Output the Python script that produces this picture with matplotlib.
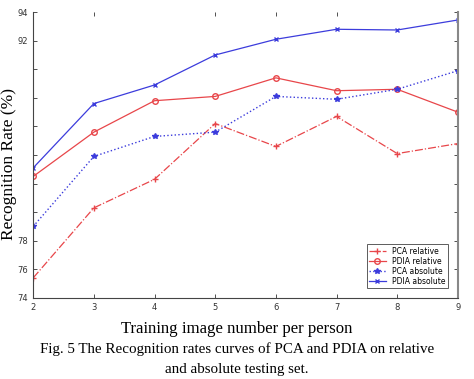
import matplotlib
matplotlib.use('Agg')
import matplotlib.pyplot as plt

# training images per person
n_train = [2, 3, 4, 5, 6, 7, 8, 9]

pca_relative = [75.4, 80.3, 82.3, 86.2, 84.6, 86.7, 84.1, 84.8]
pdia_relative = [82.5, 85.6, 87.8, 88.1, 89.4, 88.5, 88.6, 87.0]
pca_absolute = [79.0, 83.9, 85.3, 85.6, 88.1, 87.9, 88.6, 89.9]
pdia_absolute = [83.1, 87.6, 88.9, 91.0, 92.1, 92.8, 92.75, 93.45]

y_ticks = [74, 76, 78, 80, 82, 84, 86, 88, 90, 92, 94]
y_tick_labels = ["74", "76", "78", "", "", "", "", "", "", "92", "94"]
top_ticks = [3, 5, 6, 7]

red = '#e8464a'
blue = '#3c3cdc'

fig = plt.figure(figsize=(4.74, 3.79), dpi=100)
ax = fig.add_axes([0.070, 0.214, 0.896, 0.754])

ax.plot(n_train, pca_relative, color=red, linestyle='-.', marker='+', markersize=5, linewidth=0.9, label='PCA relative')
ax.plot(n_train, pdia_relative, color=red, linestyle='-', marker='o', markersize=4, markerfacecolor='none', linewidth=0.9, label='PDIA relative')
ax.plot(n_train, pca_absolute, color=blue, linestyle=':', marker='*', markersize=4, linewidth=1.0, label='PCA absolute')
ax.plot(n_train, pdia_absolute, color=blue, linestyle='-', marker='x', markersize=3, linewidth=0.9, label='PDIA absolute')

ax.set_xlim(2, 9)
ax.set_ylim(74, 94)
ax.set_xticks(n_train)
ax.set_xticklabels([str(v) for v in n_train])
ax.set_yticks(y_ticks)
ax.set_yticklabels(y_tick_labels)
ax.tick_params(direction='in', length=3, labelsize=6, right=True, width=0.6, colors='#333333')

ax.spines['top'].set_visible(False)
for s in ['left', 'bottom']:
    ax.spines[s].set_color('#444444')
    ax.spines[s].set_linewidth(0.8)
ax.spines['right'].set_color('#888888')
ax.spines['right'].set_linewidth(1.5)

top = ax.secondary_xaxis('top')
top.set_xticks(top_ticks)
top.set_xticklabels([])
top.tick_params(direction='in', length=3, width=0.6, colors='#333333')
top.spines['top'].set_visible(False)

leg = ax.legend(loc='lower right', bbox_to_anchor=(0.985, 0.02), fontsize=5.5, frameon=True, fancybox=False,
                edgecolor='#333333', handlelength=2.2, borderpad=0.3, labelspacing=0.15)
leg.get_frame().set_linewidth(0.7)

serif = 'Liberation Serif'
fig.text(0.019, 0.567, 'Recognition Rate (%)', fontfamily=serif, fontsize=12.5, rotation=90, ha='center', va='center')
fig.text(0.5, 0.132, 'Training image number per person', fontfamily=serif, fontsize=12.1, ha='center', va='center')
fig.text(0.5, 0.079, 'Fig. 5 The Recognition rates curves of PCA and PDIA on relative', fontfamily=serif, fontsize=10.8, ha='center', va='center')
fig.text(0.5, 0.026, 'and absolute testing set.', fontfamily=serif, fontsize=10.8, ha='center', va='center')

fig.savefig('out.png', dpi=100)
